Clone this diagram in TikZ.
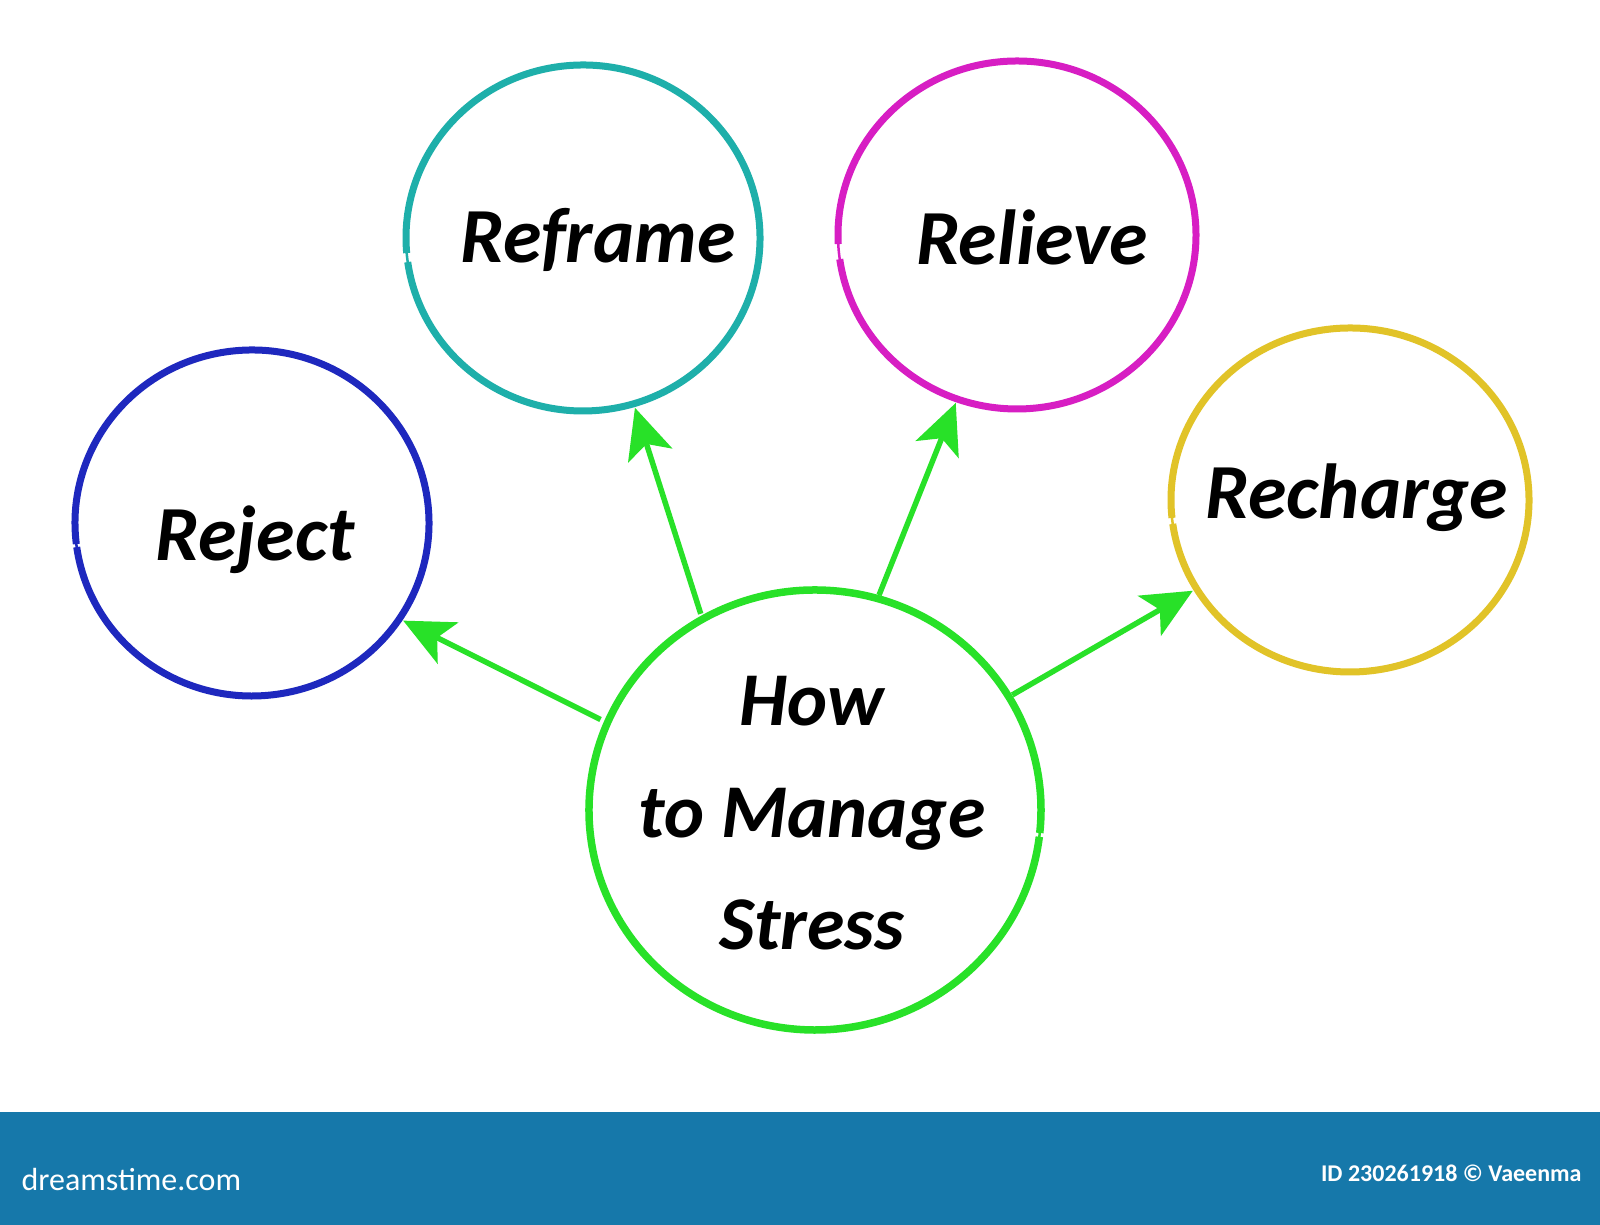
\documentclass[tikz,border=0pt]{standalone}
\usepackage{fontspec}
\setmainfont{Carlito}
\usetikzlibrary{arrows.meta,shapes.geometric}
\definecolor{rej}{RGB}{30,40,190}
\definecolor{ref}{RGB}{30,175,170}
\definecolor{rel}{RGB}{215,30,195}
\definecolor{rec}{RGB}{225,195,40}
\definecolor{grn}{RGB}{40,225,40}
\definecolor{bar}{RGB}{22,120,170}
\tikzset{
 lab/.style={font=\bfseries\itshape\fontsize{78}{80}\selectfont, text=black, align=center},
 arr/.style={grn, line width=5.5pt, -{Stealth[length=50pt,width=46pt,inset=12pt]}, shorten >=4pt, shorten <=4pt},
}
\begin{document}
\begin{tikzpicture}[x=1pt,y=1pt]
\useasboundingbox (0,0) rectangle (1600,1225);
\fill[white] (0,0) rectangle (1600,1225);
\fill[bar] (0,0) rectangle (1600,113);
\node[anchor=west, text=white, font=\fontsize{32}{34}\selectfont] (dt) at (18,45) {dreamstime.com};
\node[anchor=east, text=white, font=\bfseries\fontsize{24}{26}\selectfont] (id) at (1585,52) {ID 230261918 © Vaeenma};

\node[ellipse, minimum width=354, minimum height=346] (rj) at (252,702) {};
\node[ellipse, minimum width=354, minimum height=346] (rf) at (583,987) {};
\node[ellipse, minimum width=358, minimum height=348] (rl) at (1017,990) {};
\node[ellipse, minimum width=358, minimum height=345] (rc) at (1350,725) {};
\node[ellipse, minimum width=456, minimum height=440] (c) at (813,415) {};

\node[lab] (trj) at (255,685) {Reject};
\node[lab] (trf) at (598,985) {Reframe};
\node[lab] (trl) at (1032,988) {Relieve};
\node[lab] (trc) at (1357,727) {Recharge};
\node[lab, font=\bfseries\itshape\fontsize{76}{112}\selectfont] (tc) at (812,412) {How\\to Manage\\Stress};

\draw[rej, line width=7pt] (rj.center) ++(187:177 and 173) arc[start angle=187, end angle=-172, x radius=177, y radius=173];
\draw[rej, line width=2.5pt] (rj.center) ++(190:177 and 173) arc[start angle=190, end angle=172, x radius=179, y radius=175];
\draw[ref, line width=7pt] (rf.center) ++(185:177 and 173) arc[start angle=185, end angle=-172, x radius=177, y radius=173];
\draw[ref, line width=2.5pt] (rf.center) ++(190:177 and 173) arc[start angle=190, end angle=168, x radius=179, y radius=175];
\draw[rel, line width=7pt] (rl.center) ++(183:179 and 174) arc[start angle=183, end angle=-172, x radius=179, y radius=174];
\draw[rel, line width=2.5pt] (rl.center) ++(190:179 and 174) arc[start angle=190, end angle=170, x radius=181, y radius=176];
\draw[rec, line width=7pt] (rc.center) ++(186:179 and 172) arc[start angle=186, end angle=-172, x radius=179, y radius=172];
\draw[rec, line width=2.5pt] (rc.center) ++(190:179 and 172) arc[start angle=190, end angle=172, x radius=181, y radius=174];
\draw[grn, line width=7.5pt] (c.center) ++(-6:228 and 220) arc[start angle=-6, end angle=353, x radius=226, y radius=220];
\draw[grn, line width=2.5pt] (c.center) ++(-10:228 and 220) arc[start angle=-10, end angle=8, x radius=230, y radius=222];

\draw[arr] (c.157) -- (rj.-33);
\draw[arr] (c.120) -- (rf.-73);
\draw[arr] (c.73) -- (rl.-110);
\draw[arr] (c.30) -- (rc.210);
\end{tikzpicture}
\end{document}
